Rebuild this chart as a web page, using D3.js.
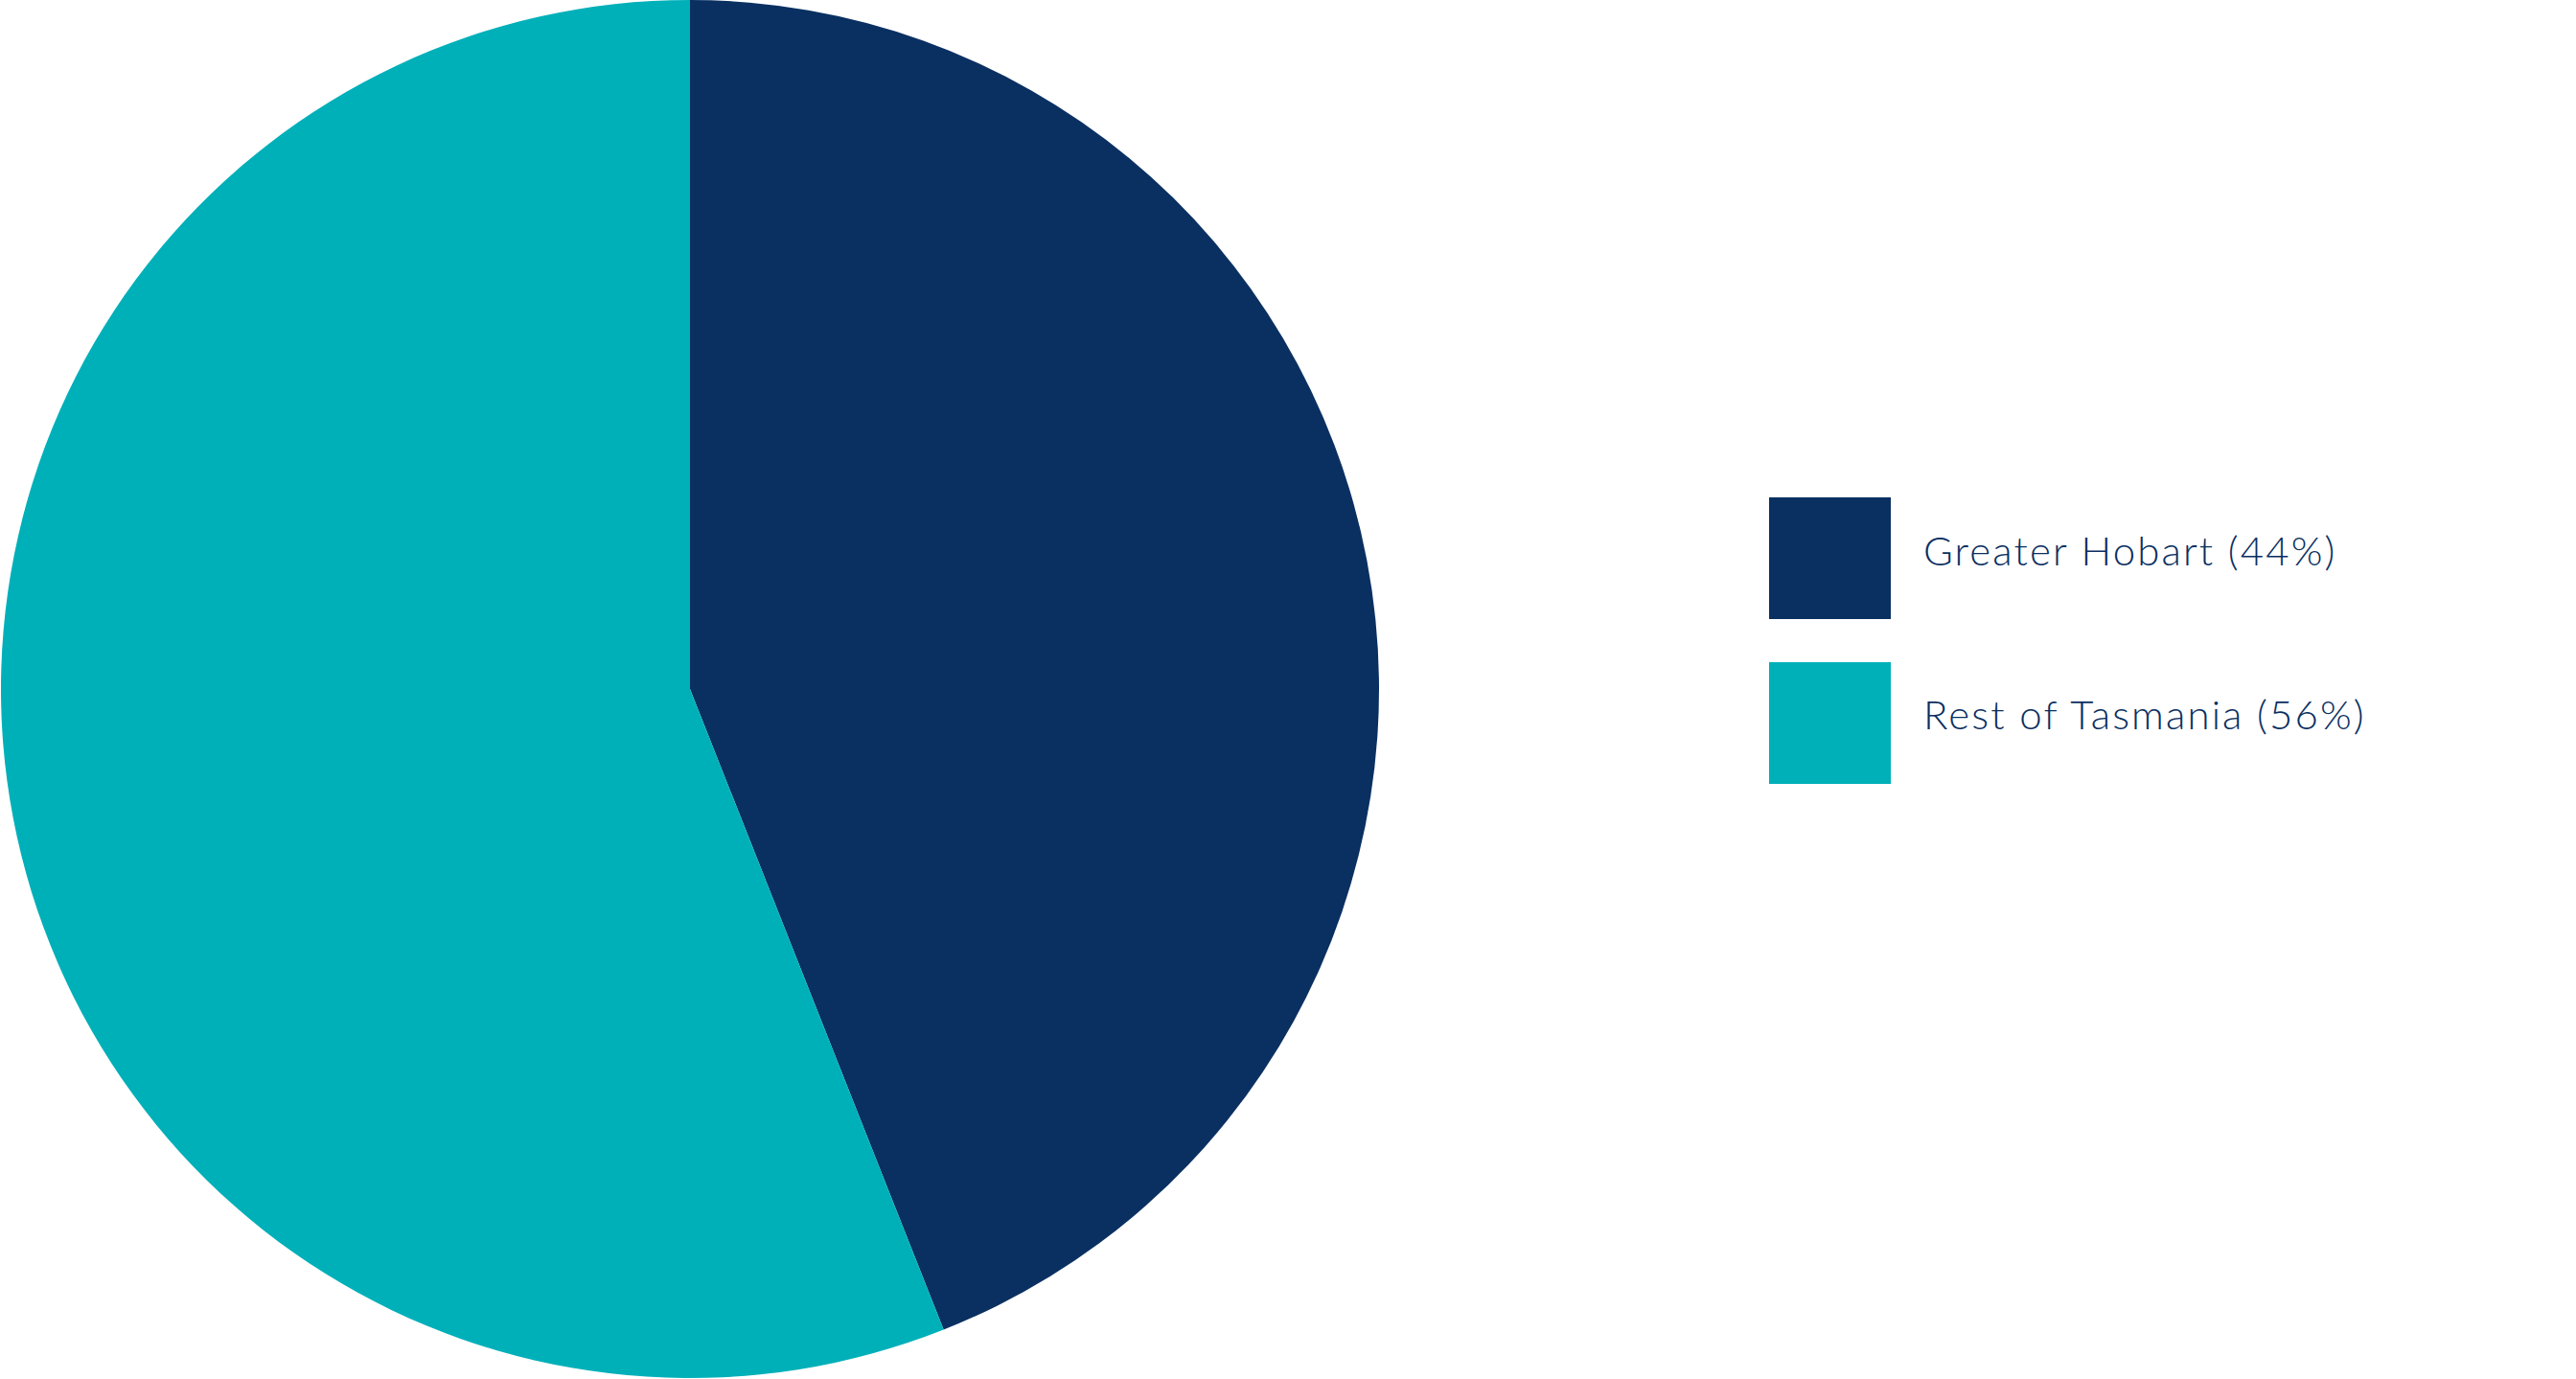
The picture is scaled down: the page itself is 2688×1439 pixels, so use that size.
<!DOCTYPE html>
<html>
<head>
<meta charset="utf-8">
<script src="https://cdn.jsdelivr.net/npm/d3@7"></script>
<style>
  body { margin: 0; background: #fff; }
  svg { display: block; }
  .legendText { font-family: Lato, "Open Sans", sans-serif; font-weight: 300; fill: #0a2f61; letter-spacing: 2.1px; }
</style>
</head>
<body>
<script>
var regions = ["Greater Hobart", "Rest of Tasmania"];
var shares = [44, 56];
var colours = ["#0a3062", "#00b0b9"];

var svgWidth = 2688;
var svgHeight = 1439;

var svg = d3.select("body").append("svg")
    .attr("width", svgWidth)
    .attr("height", svgHeight);

var radius = 719;
var pieGroup = svg.append("g")
    .attr("transform", `translate(720, 719)`);

var pie = d3.pie().sort(null).value(d => d);
var arc = d3.arc().innerRadius(0).outerRadius(radius);

var colour = d3.scaleOrdinal().domain(regions).range(colours);

pieGroup.selectAll("path")
    .data(pie(shares))
    .enter()
    .append("path")
    .attr("d", arc)
    .attr("fill", (d, i) => colour(regions[i]));

// legend
var legend = svg.append("g")
    .attr("transform", `translate(1846, 519)`);

var rows = legend.selectAll("g")
    .data(regions)
    .enter()
    .append("g")
    .attr("transform", (d, i) => `translate(0, ${i * 172})`);

rows.append("rect")
    .attr("width", 127)
    .attr("height", 127)
    .attr("fill", d => colour(d));

rows.append("text")
    .attr("class", "legendText")
    .attr("x", 161)
    .attr("y", (d, i) => i === 0 ? 71 : 70)
    .attr("font-size", 42)
    .text((d, i) => `${d} (${shares[i]}%)`);
</script>
</body>
</html>
